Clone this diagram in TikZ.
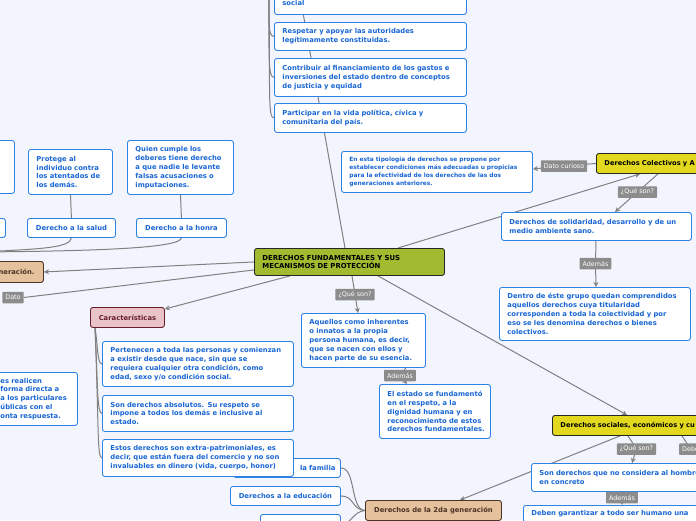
\documentclass[tikz,border=0pt]{standalone}
\usepackage{fontspec}
\setmainfont{DejaVu Sans}
\usetikzlibrary{arrows.meta,calc}
\definecolor{bgcol}{RGB}{242,245,253}
\definecolor{boxblue}{RGB}{45,130,230}
\definecolor{textblue}{RGB}{25,102,212}
\definecolor{olive}{RGB}{160,187,48}
\definecolor{yell}{RGB}{226,216,30}
\definecolor{tan}{RGB}{230,193,157}
\definecolor{tantext}{RGB}{75,52,38}
\definecolor{pinkf}{RGB}{232,196,200}
\definecolor{pinkd}{RGB}{105,28,42}
\definecolor{lblgray}{RGB}{140,140,140}
\definecolor{conngray}{RGB}{128,128,128}
\newcommand\myboxfont{\fontsize{6.8}{8.9}\selectfont\bfseries}
\newcommand\mysmallfont{\fontsize{5.9}{8}\selectfont\bfseries}
\newcommand\mylblfont{\fontsize{6.4}{7}\selectfont}
\pgfdeclarelayer{bg}
\pgfdeclarelayer{lines}
\pgfsetlayers{bg,lines,main}
\tikzset{
  box/.style={draw=boxblue, fill=white, rounded corners=2.5pt, line width=0.9pt,
    text=textblue, font=\myboxfont, anchor=north west, align=left,
    inner xsep=8pt, inner ysep=0pt},
  sbox/.style={box, align=center, inner xsep=2pt},
  mainbox/.style={draw=black!85, fill=olive, rounded corners=2.5pt, line width=0.9pt,
    text=black, font=\fontsize{6.9}{8}\selectfont\bfseries, anchor=north west,
    align=left, inner xsep=8pt, inner ysep=0pt},
  yellbox/.style={mainbox, fill=yell, font=\fontsize{6.7}{8}\selectfont\bfseries},
  genbox/.style={draw=tantext, fill=tan, rounded corners=2.5pt, line width=0.9pt,
    text=tantext, font=\myboxfont, anchor=north west, inner ysep=0pt},
  pinkbox/.style={draw=pinkd, fill=pinkf, rounded corners=2.5pt, line width=0.9pt,
    text=pinkd, font=\myboxfont, anchor=north west, inner ysep=0pt, align=center},
  lbl/.style={fill=lblgray, text=white, font=\mylblfont, inner xsep=3pt,
    inner ysep=0pt, minimum height=11.5pt, rounded corners=0.8pt},
  conn/.style={draw=conngray, line width=1pt},
  arr/.style={conn, -{Stealth[length=5pt,width=5pt]}},
}
\begin{document}
\begin{tikzpicture}[x=1pt,y=-1pt]
\useasboundingbox (0,0) rectangle (696,520);
\clip (0,0) rectangle (696,520);
\begin{pgfonlayer}{bg}
\fill[bgcol] (0,0) rectangle (696,520);
\end{pgfonlayer}

% top boxes
\node[box, text width=176pt, minimum height=22pt] (t0) at (274,-8) {\mbox{social}};
\node[box, text width=176pt, minimum height=28pt] (t1) at (274,22)
  {\mbox{Respetar y apoyar las autoridades}\\\mbox{legítimamente constituidas.}};
\node[box, text width=176pt, minimum height=38pt] (t2) at (274,58)
  {\mbox{Contribuir al financiamiento de los gastos e}\\\mbox{inversiones del estado dentro de conceptos}\\\mbox{de justicia y equidad}};
\node[box, text width=176pt, minimum height=29pt] (t3) at (274,103)
  {\mbox{Participar en la vida política, cívica y}\\\mbox{comunitaria del país.}};
\coordinate (ttop) at (269,-12);
\coordinate (topsrc) at (300,-4);

% main
\node[mainbox, text width=174pt, minimum height=27pt] (main) at (254,248)
  {\mbox{DERECHOS FUNDAMENTALES Y SUS}\\\mbox{MECANISMOS DE PROTECCIÓN}};

% left side
\node[genbox, text width=65pt, align=right, inner xsep=9pt, minimum height=21pt] (gen1) at (-40,261) {neración.};
\node[lbl] (dato) at (13,297.5) {Dato};
\node[box, minimum width=74pt, minimum height=53pt] (lb1) at (-60,140) {};
\node[box, text width=68pt, minimum height=45pt] (protege) at (28,149)
  {\mbox{Protege al}\\\mbox{individuo contra}\\\mbox{los atentados de}\\\mbox{los demás.}};
\node[box, text width=90pt, minimum height=54pt] (quien) at (127,140)
  {\mbox{Quien cumple los}\\\mbox{deberes tiene derecho}\\\mbox{a que nadie le levante}\\\mbox{falsas acusaciones o}\\\mbox{imputaciones.}};
\node[box, minimum width=65pt, minimum height=19pt] (lb2) at (-60,218) {};
\node[sbox, minimum width=88pt, minimum height=19pt] (salud) at (27,218) {Derecho a la salud};
\node[sbox, minimum width=90pt, minimum height=19pt] (honra) at (136,218) {Derecho a la honra};
\coordinate (gen1src) at (-20,252);

\node[box, text width=69pt, inner xsep=8pt, minimum height=53pt] (lbox) at (-8,372)
  {\mbox{es realicen}\\\mbox{forma directa a}\\\mbox{a los particulares}\\\mbox{úblicas con el}\\\mbox{onta respuesta.}};

% caracteristicas
\node[pinkbox, minimum width=74pt, minimum height=20pt] (caract) at (90,307) {Características};
\node[box, text width=175pt, minimum height=45pt] (c1) at (102,341)
  {\mbox{Pertenecen a toda las personas y comienzan}\\\mbox{a existir desde que nace, sin que se}\\\mbox{requiera cualquier otra condición, como}\\\mbox{edad, sexo y/o condición social.}};
\node[box, text width=175pt, minimum height=36pt] (c2) at (102,395)
  {\mbox{Son derechos absolutos. Su respeto se}\\\mbox{impone a todos los demás e inclusive al}\\\mbox{estado.}};

% 2da generacion children (familia under c3)
\node[box, text width=97pt, align=right, inner xsep=5pt, minimum height=19pt] (fam) at (233,458) {\mbox{la familia}};
\node[box, text width=175pt, minimum height=37pt] (c3) at (102,439)
  {\mbox{Estos derechos son extra-patrimoniales, es}\\\mbox{decir, que están fuera del comercio y no son}\\\mbox{invaluables en dinero (vida, cuerpo, honor)}};
\node[sbox, minimum width=110pt, minimum height=19pt] (edu) at (230,486) {Derechos a la educación};
\node[box, minimum width=80pt, minimum height=20pt] (third) at (260,514) {};
\node[genbox, minimum width=136pt, minimum height=20pt] (gen2) at (365,500) {Derechos de la 2da generación};

% center
\node[lbl] (qs1) at (355,294.5) {¿Qué son?};
\node[box, text width=108pt, minimum height=54pt] (aquellos) at (301,313)
  {\mbox{Aquellos como inherentes}\\\mbox{o innatos a la propia}\\\mbox{persona humana, es decir,}\\\mbox{que se nacen con ellos y}\\\mbox{hacen parte de su esencia.}};
\node[lbl] (ad1) at (400,375.5) {Además};
\node[box, text width=95pt, minimum height=54pt] (estado) at (379,384)
  {\mbox{El estado se fundamentó}\\\mbox{en el respeto, a la}\\\mbox{dignidad humana y en}\\\mbox{reconocimiento de estos}\\\mbox{derechos fundamentales.}};

% colectivos
\node[yellbox, text width=114pt, minimum height=20pt] (colect) at (596,153) {\mbox{Derechos Colectivos y A}};
\node[lbl] (datoc) at (564,166) {Dato curioso};
\node[box, font=\mysmallfont, text width=175pt, minimum height=41pt] (tipol) at (341,151)
  {\mbox{En esta tipología de derechos se propone por}\\\mbox{establecer condiciones más adecuadas u propicias}\\\mbox{para la efectividad de los derechos de las dos}\\\mbox{generaciones anteriores.}};
\node[lbl] (qs2) at (637.5,192) {¿Qué son?};
\node[box, text width=174pt, minimum height=28pt] (solid) at (501,212)
  {\mbox{Derechos de solidaridad, desarrollo y de un}\\\mbox{medio ambiente sano.}};
\node[lbl] (ad2) at (595.5,263.5) {Además};
\node[box, text width=175pt, minimum height=53pt] (dentro) at (499,287)
  {\mbox{Dentro de éste grupo quedan comprendidos}\\\mbox{aquellos derechos cuya titularidad}\\\mbox{corresponden a toda la colectividad y por}\\\mbox{eso se les denomina derechos o bienes}\\\mbox{colectivos.}};

% sociales
\node[yellbox, text width=154pt, minimum height=20pt] (soc) at (552,415) {\mbox{Derechos sociales, económicos y cu}};
\node[lbl] (qs3) at (636.5,449) {¿Qué son?};
\node[lbl, anchor=west] (debe) at (679,449) {Debe};
\node[box, text width=174pt, minimum height=28pt] (son) at (531,463)
  {\mbox{Son derechos que no considera al hombre}\\\mbox{en concreto}};
\node[lbl] (ad3) at (622,497.5) {Además};
\node[box, text width=184pt, minimum height=17pt] (deben) at (523,505)
  {\mbox{Deben garantizar a todo ser humano una}};

% connectors
\begin{pgfonlayer}{lines}
\draw[conn] (topsrc) -- ($(main.north west)+(91,0)$);
\draw[conn] (ttop) .. controls (269,25) and (268,36) .. (t1.west);
\draw[conn] (ttop) .. controls (269,60) and (268,77) .. (t2.west);
\draw[conn] (ttop) .. controls (270,100) and (268,117) .. (t3.west);
\draw[arr] (main.west) -- (gen1.east);
\draw[conn] ($(main.west)+(0,8)$) -- (dato.east);
\draw[arr] ($(main.south west)+(36,0)$) -- ($(caract.north east)+(0,2)$);
\draw[arr] ($(main.south west)+(98,0)$) -- (qs1.center) -- ($(aquellos.north west)+(57,0)$);
\draw[arr] ($(aquellos.south east)+(-20,0)$) -- (ad1.center) -- ($(estado.north west)+(28,0)$);
\draw[arr] ($(main.south west)+(124,0)$) -- ($(soc.north west)+(75,0)$);
\draw[arr] ($(main.north west)+(144,0)$) -- ($(colect.south west)+(44,0)$);
\draw[arr] (colect.west) -- (datoc.center) -- ($(tipol.east)+(0,-3)$);
\draw[arr] ($(colect.south west)+(62,0)$) -- (qs2.center) -- ($(solid.north west)+(114,0)$);
\draw[arr] ($(solid.south west)+(95,0)$) -- (ad2.center) -- ($(dentro.north west)+(97,0)$);
\draw[arr] ($(soc.south west)+(68,0)$) -- ($(gen2.north west)+(95,0)$);
\draw[arr] ($(soc.south west)+(76,0)$) -- (qs3.center) -- ($(son.north west)+(101,0)$);
\draw[conn] ($(soc.south west)+(130,0)$) -- (debe.center);
\draw[arr] ($(son.south west)+(91,0)$) -- (ad3.center) -- ($(deben.north west)+(99,0)$);
\draw[conn] (gen2.west) .. controls (350,510) and (356,467.5) .. (fam.east);
\draw[conn] (gen2.west) .. controls (352,510) and (354,495.5) .. (edu.east);
\draw[conn] (gen2.west) .. controls (352,512) and (352,524) .. (third.east);
\coordinate (csrc) at ($(caract.south west)+(5,0)$);
\draw[conn] (csrc) .. controls (98,345) and (97,363.5) .. (c1.west);
\draw[conn] (csrc) .. controls (98,390) and (97,413) .. (c2.west);
\draw[conn] (csrc) .. controls (99,430) and (97,457.5) .. (c3.west);
\draw[conn] (gen1src) .. controls (40,249) and (70,248) .. (salud.south);
\draw[conn] (gen1src) .. controls (100,251) and (180,248) .. (honra.south);
\draw[conn] (protege.south) .. controls (71,205) and (71,210) .. (salud.north);
\draw[conn] (quien.south) .. controls (181,205) and (181,210) .. (honra.north);
\end{pgfonlayer}
\end{tikzpicture}
\end{document}
